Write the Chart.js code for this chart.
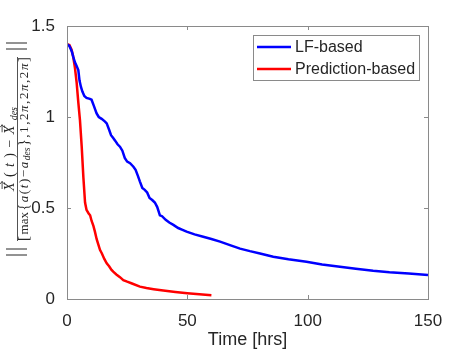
<!DOCTYPE html>
<html>
<head>
<meta charset="utf-8">
<script src="https://cdn.jsdelivr.net/npm/chart.js@4"></script>
<style>
  html,body{margin:0;padding:0;background:#fff;}
  canvas{display:block;}
</style>
</head>
<body>
<canvas id="chart" width="474" height="354"></canvas>
<script>
// values
const lfT = [0,1,2,2.6,3.3,4,4.7,5.2,5.8,6.4,7.2,8.1,9.5,10.2,11.2,12.3,13.2,14.4,15.8,16.5,17.5,18.3,19.2,20,21,22,23,24,25,26.2,27.6,28.5,29.5,30.3,31.3,32.3,33.3,34.3,35.4,36.5,37.5,38.6,39.5,41,42.5,44.2,46.2,48,49.7,53,56.6,60,63.6,68,71.9,76,80.2,85.7,92,99.5,106,113.4,120,127.2,134,142,150];
const lfY = [1.40,1.39,1.36,1.33,1.30,1.28,1.258,1.20,1.165,1.14,1.115,1.105,1.10,1.095,1.06,1.02,1.00,0.99,0.975,0.965,0.93,0.90,0.885,0.87,0.85,0.837,0.815,0.775,0.755,0.746,0.727,0.71,0.675,0.645,0.61,0.60,0.585,0.555,0.544,0.53,0.505,0.46,0.455,0.435,0.42,0.407,0.39,0.38,0.37,0.355,0.342,0.33,0.315,0.295,0.277,0.263,0.25,0.232,0.218,0.205,0.19,0.177,0.166,0.155,0.147,0.14,0.132];

const prT = [0,1,1.9,2.6,3.3,4,4.7,5.4,6.1,6.8,7.5,8.1,9,9.6,10.2,11,11.6,12.3,13,13.7,14.5,15.5,16.5,17.5,18.5,19.2,20.5,22,23.4,25,27,30.3,33,36,40,45,50,55,60];
const prY = [1.40,1.395,1.37,1.33,1.27,1.19,1.08,0.98,0.84,0.67,0.53,0.49,0.47,0.46,0.43,0.40,0.37,0.33,0.30,0.27,0.25,0.22,0.196,0.18,0.16,0.15,0.135,0.12,0.104,0.095,0.085,0.068,0.06,0.054,0.047,0.039,0.032,0.026,0.021];

const seriesNames = ["LF-based","Prediction-based"];
const seriesColors = ["rgb(0,0,255)","rgb(255,0,0)"];
const xTicks = [0,50,100,150];
const yTicks = [0,0.5,1,1.5];

const SANS = "'Liberation Sans', Arial, Helvetica, sans-serif";
const SERIF = "'Liberation Serif', 'DejaVu Serif', serif";
const AXIS = "#8a8a8a";
const INK = "#262626";

const pts = (xs,ys) => xs.map((x,i)=>({x, y:ys[i]}));

// white page
const bgPlugin = {
  id:"bg",
  beforeDraw(c){
    const ctx=c.ctx;
    ctx.save(); ctx.fillStyle="#fff"; ctx.fillRect(0,0,c.width,c.height); ctx.restore();
  }
};

// matlab style box with inward ticks
const boxPlugin = {
  id:"box",
  afterDatasetsDraw(c){
    const {ctx, chartArea:a, scales:{x,y}} = c;
    ctx.save();
    ctx.strokeStyle=AXIS; ctx.lineWidth=1;
    ctx.strokeRect(a.left+0.5, a.top+0.5, a.right-a.left, a.bottom-a.top);
    ctx.beginPath();
    xTicks.forEach(v=>{
      const px=Math.round(x.getPixelForValue(v))+0.5;
      ctx.moveTo(px,a.bottom); ctx.lineTo(px,a.bottom-4);
      ctx.moveTo(px,a.top); ctx.lineTo(px,a.top+4);
    });
    yTicks.forEach(v=>{
      const py=Math.round(y.getPixelForValue(v))+0.5;
      ctx.moveTo(a.left,py); ctx.lineTo(a.left+4,py);
      ctx.moveTo(a.right,py); ctx.lineTo(a.right-4,py);
    });
    ctx.stroke();
    ctx.restore();
  }
};

// legend inside the axes, top right
const legendPlugin = {
  id:"boxLegend",
  afterDraw(c){
    const ctx=c.ctx;
    const x0=253, y0=35, w=166, h=45;
    ctx.save();
    ctx.fillStyle="#fff"; ctx.fillRect(x0,y0,w,h);
    ctx.strokeStyle=AXIS; ctx.lineWidth=1;
    ctx.strokeRect(x0+0.5,y0+0.5,w,h);
    ctx.font="16px "+SANS; ctx.textBaseline="middle"; ctx.fillStyle=INK;
    c.data.datasets.forEach((d,i)=>{
      const ly=y0+12+i*22;
      ctx.strokeStyle=d.borderColor; ctx.lineWidth=2.5;
      ctx.beginPath(); ctx.moveTo(x0+4,ly); ctx.lineTo(x0+38,ly); ctx.stroke();
      ctx.fillText(d.label, x0+42, ly+1);
    });
    ctx.restore();
  }
};

// rotated y label:  || (X(t)-Xdes) / [max{a(t)-ades},1,2pi,2pi,2pi] ||
const ylabelPlugin = {
  id:"ylabel",
  afterDraw(c){
    const ctx=c.ctx;
    const cx=17, cy=149;
    const num=[
      {t:"X",s:14,i:1,arrow:1},{t:"(",s:14},{t:"t",s:14,i:1},{t:")",s:14},
      {t:"\u2212",s:14},{t:"X",s:14,i:1,arrow:1},{t:"des",s:10,i:1,dv:0.25}
    ];
    const den=[
      {t:"[",s:15},{t:"max",s:13},{t:"{",s:14},{t:"a",s:13,i:1},{t:"(",s:13},
      {t:"t",s:13,i:1},{t:")",s:13},{t:"\u2212",s:13},{t:"a",s:13,i:1},{t:"des",s:9.5,i:1,dv:0.25},
      {t:"}",s:14},{t:",",s:13},{t:"1",s:13},{t:",",s:13},{t:"2",s:13},{t:"\u03c0",s:13,i:1},{t:",",s:13},{t:"2",s:13},{t:"\u03c0",s:13,i:1},
      {t:",",s:13},{t:"2",s:13},{t:"\u03c0",s:13,i:1},{t:"]",s:15}
    ];
    const font=p=>(p.i?"italic ":"")+p.s+"px "+SERIF;
    const natural=arr=>arr.reduce((s,p)=>{ctx.font=font(p); return s+ctx.measureText(p.t).width;},0);
    const draw=(arr,target,v)=>{
      const gap=Math.max(0,(target-natural(arr))/(arr.length-1));
      let u=-target/2;
      arr.forEach(p=>{
        ctx.font=font(p);
        const w=ctx.measureText(p.t).width;
        ctx.fillText(p.t,u,v+(p.dv||0)*p.s);
        if(p.arrow){
          const ay=v-p.s*0.85;
          ctx.beginPath();
          ctx.moveTo(u+2,ay); ctx.lineTo(u+w+1,ay);
          ctx.moveTo(u+w-1.5,ay-2); ctx.lineTo(u+w+1,ay); ctx.lineTo(u+w-1.5,ay+2);
          ctx.stroke();
        }
        u+=w+gap;
      });
    };
    ctx.save();
    ctx.translate(cx,cy); ctx.rotate(-Math.PI/2);
    ctx.fillStyle=INK; ctx.strokeStyle=INK; ctx.lineWidth=0.8;
    ctx.textBaseline="alphabetic";
    const dw=184;
    draw(num,84,-3);
    ctx.beginPath(); ctx.moveTo(-dw/2,0.5); ctx.lineTo(dw/2,0.5); ctx.stroke();
    draw(den,dw,11);
    // norm bars
    ctx.lineWidth=1;
    const bar=(u)=>{ctx.beginPath(); ctx.moveTo(u,-11); ctx.lineTo(u,10); ctx.stroke();};
    const e=dw/2+8;
    bar(-e-6); bar(-e); bar(e); bar(e+6);
    ctx.restore();
  }
};

new Chart(document.getElementById("chart"),{
  type:"line",
  data:{
    datasets:[
      {label:seriesNames[0], data:pts(lfT,lfY), borderColor:seriesColors[0], borderWidth:2.5, pointRadius:0, tension:0, fill:false},
      {label:seriesNames[1], data:pts(prT,prY), borderColor:seriesColors[1], borderWidth:2.5, pointRadius:0, tension:0, fill:false}
    ]
  },
  options:{
    responsive:false,
    animation:false,
    layout:{padding:{left:0,top:26,right:46,bottom:0}},
    plugins:{legend:{display:false}, tooltip:{enabled:false}},
    scales:{
      x:{
        type:"linear", min:0, max:150,
        afterBuildTicks:s=>{s.ticks=xTicks.map(v=>({value:v}));},
        grid:{display:false}, border:{display:false},
        ticks:{font:{family:SANS,size:17}, color:INK, padding:4, maxRotation:0, callback:v=>String(v)},
        title:{display:true, text:"Time [hrs]", font:{family:SANS,size:18}, color:INK, padding:{top:0,bottom:3}},
        afterFit:s=>{s.height=55;}
      },
      y:{
        type:"linear", min:0, max:1.5,
        afterBuildTicks:s=>{s.ticks=yTicks.map(v=>({value:v}));},
        grid:{display:false}, border:{display:false},
        ticks:{font:{family:SANS,size:17}, color:INK, padding:4, callback:v=>String(v)},
        afterFit:s=>{s.width=67;}
      }
    }
  },
  plugins:[bgPlugin,boxPlugin,legendPlugin,ylabelPlugin]
});
</script>
</body>
</html>
